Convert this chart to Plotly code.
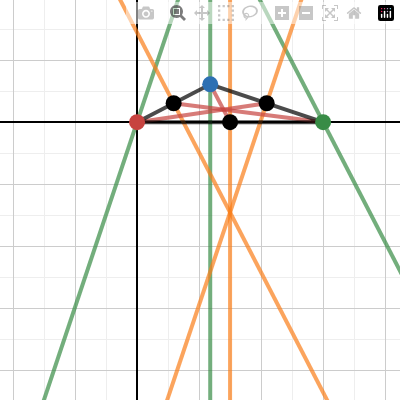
import numpy as np
import plotly.graph_objects as go

# triangle vertices
ax_, ay_ = 0.0, 0.0
bx_, by_ = 3.0, 0.0
cx_, cy_ = 1.18, 0.61

tri_x = [ax_, bx_, cx_]
tri_y = [ay_, by_, cy_]
mid_x = [(bx_ + cx_) / 2, (ax_ + cx_) / 2, (ax_ + bx_) / 2]
mid_y = [(by_ + cy_) / 2, (ay_ + cy_) / 2, (ay_ + by_) / 2]

xr = [-2.21, 4.24]
yr = [-4.48, 1.97]
RED, BLUE, GREEN, ORANGE = "#c74440", "#2d70b3", "#388c46", "#fa7e19"

def line_through(px, py, dx, dy):
    t = np.array([-20, 20])
    return px + t * dx, py + t * dy

fig = go.Figure()

# altitudes (green)
for i in range(3):
    j, k = (i + 1) % 3, (i + 2) % 3
    ex, ey = tri_x[k] - tri_x[j], tri_y[k] - tri_y[j]
    lx, ly = line_through(tri_x[i], tri_y[i], -ey, ex)
    fig.add_trace(go.Scatter(x=lx, y=ly, mode="lines", line=dict(color=GREEN, width=4), opacity=0.7))

# perpendicular bisectors (orange)
for i in range(3):
    j, k = (i + 1) % 3, (i + 2) % 3
    ex, ey = tri_x[k] - tri_x[j], tri_y[k] - tri_y[j]
    lx, ly = line_through(mid_x[i], mid_y[i], -ey, ex)
    fig.add_trace(go.Scatter(x=lx, y=ly, mode="lines", line=dict(color=ORANGE, width=4), opacity=0.7))

# medians (red)
for i in range(3):
    fig.add_trace(go.Scatter(x=[tri_x[i], mid_x[i]], y=[tri_y[i], mid_y[i]], mode="lines",
                             line=dict(color=RED, width=4), opacity=0.7))

# triangle (black)
fig.add_trace(go.Scatter(x=tri_x + [tri_x[0]], y=tri_y + [tri_y[0]], mode="lines",
                         line=dict(color="black", width=4), opacity=0.7))

fig.add_trace(go.Scatter(x=mid_x, y=mid_y, mode="markers", marker=dict(color="black", size=16)))
fig.add_trace(go.Scatter(x=tri_x, y=tri_y, mode="markers", marker=dict(color=[RED, GREEN, BLUE], size=16)))

fig.update_layout(
    width=400, height=400, margin=dict(l=0, r=0, t=0, b=0),
    plot_bgcolor="white", paper_bgcolor="white", showlegend=False,
    xaxis=dict(range=xr, dtick=1, showgrid=True, gridcolor="#cccccc", zeroline=True,
               zerolinecolor="black", zerolinewidth=2, showticklabels=False,
               minor=dict(dtick=0.5, showgrid=True, gridcolor="#eeeeee")),
    yaxis=dict(range=yr, dtick=1, showgrid=True, gridcolor="#cccccc", zeroline=True,
               zerolinecolor="black", zerolinewidth=2, showticklabels=False,
               minor=dict(dtick=0.5, showgrid=True, gridcolor="#eeeeee")),
)
fig.write_html("out.html", post_script="document.body.style.margin='0';")
